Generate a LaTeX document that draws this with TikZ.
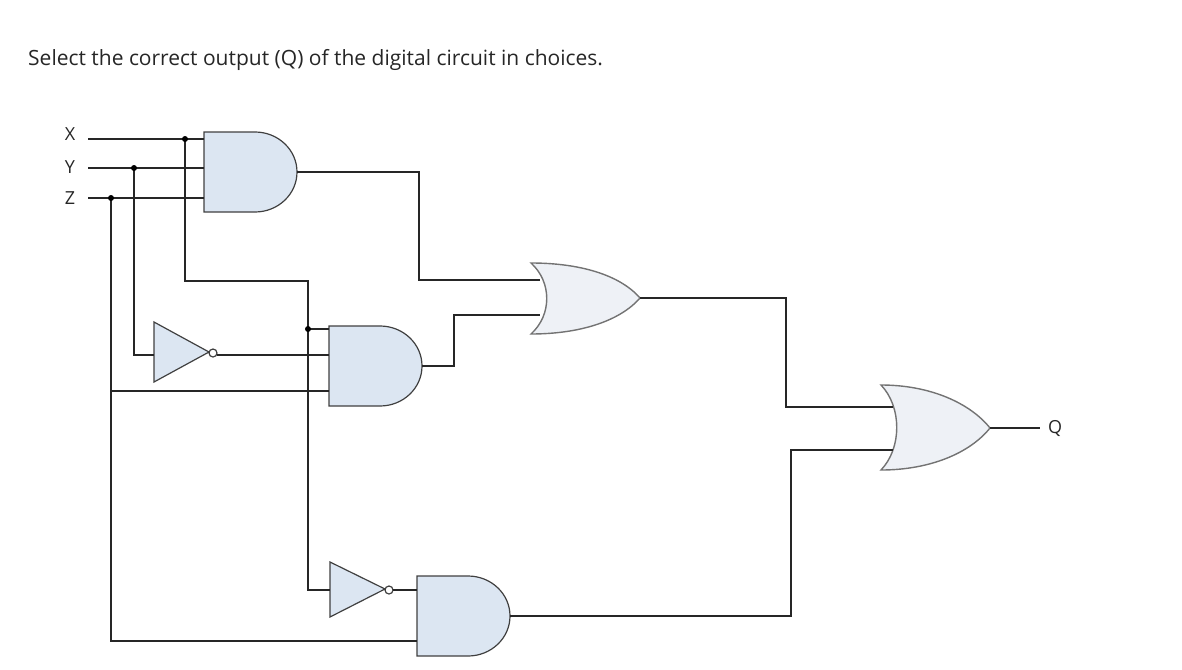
\documentclass[tikz,border=0pt]{standalone}
\usepackage{fontspec}
\setmainfont{Open Sans}
\begin{document}
\begin{tikzpicture}[x=1pt,y=-1pt,
  wire/.style={draw=black!85,line width=1.2pt},
  andg/.style={draw=black!75,fill={rgb,255:red,220;green,230;blue,242},line width=1.2pt},
  org/.style={draw=black!55,fill={rgb,255:red,238;green,241;blue,246},line width=1.4pt},
  dotc/.style={circle,fill=black,inner sep=0pt,minimum size=6pt},
  lbl/.style={font=\fontsize{18}{20}\selectfont,text=black!85}]
\useasboundingbox (0,0) rectangle (1182,669);
\node[lbl,anchor=west,font=\fontsize{21}{24}\selectfont,inner sep=0pt] (title) at (28,60) {Select the correct output (Q) of the digital circuit in choices.};
\node[lbl] (lx) at (70,134) {X};
\node[lbl] (ly) at (70,167) {Y};
\node[lbl] (lz) at (70,198) {Z};
\node[lbl] (lq) at (1055,428) {Q};
% gates
\path[andg] (204,132) -- (255,132) arc[start angle=-90,end angle=90,x radius=42,y radius=40] -- (204,212) -- cycle;
\path[andg] (329,326) -- (380,326) arc[start angle=-90,end angle=90,x radius=42,y radius=40] -- (329,406) -- cycle;
\path[andg] (417,576) -- (468,576) arc[start angle=-90,end angle=90,x radius=42,y radius=40] -- (417,656) -- cycle;
\path[andg] (154,322) -- (209,352) -- (154,382) -- cycle;
\path[andg,fill=white] (213,353) circle[radius=4];
\path[andg] (330,562) -- (385,589) -- (330,617) -- cycle;
\path[andg,fill=white] (389,590) circle[radius=4];
\path[org] (531,263) .. controls (580,263) and (620,275) .. (640,298) .. controls (620,321) and (580,334) .. (531,334) .. controls (552,315) and (552,282) .. (531,263) -- cycle;
\path[org] (881,385) .. controls (930,385) and (970,403) .. (990,428) .. controls (970,453) and (930,470) .. (881,470) .. controls (902,448) and (902,407) .. (881,385) -- cycle;
% coordinates
\coordinate (dx) at (185,139);
\coordinate (dy) at (134,168);
\coordinate (dz) at (111,198);
\coordinate (d2) at (308,329);
% wires
\draw[wire] (88,139) -- (204,139);
\draw[wire] (88,168) -- (204,168);
\draw[wire] (88,198) -- (204,198);
\draw[wire] (dx) -- (185,281) -- (308,281) -- (308,590) -- (330,590);
\draw[wire] (d2) -- (329,329);
\draw[wire] (dy) -- (134,355) -- (154,355);
\draw[wire] (217,355) -- (329,355);
\draw[wire] (dz) -- (111,641) -- (417,641);
\draw[wire] (111,391) -- (329,391);
\draw[wire] (393,590) -- (417,590);
\draw[wire] (297,172) -- (419,172) -- (419,280) -- (540,280);
\draw[wire] (422,366) -- (454,366) -- (454,315) -- (540,315);
\draw[wire] (640,298) -- (786,298) -- (786,407) -- (893,407);
\draw[wire] (510,616) -- (791,616) -- (791,450) -- (893,450);
\draw[wire] (990,428) -- (1040,428);
\node[dotc] at (dx) {};
\node[dotc] at (dy) {};
\node[dotc] at (dz) {};
\node[dotc] at (d2) {};
\end{tikzpicture}
\end{document}
